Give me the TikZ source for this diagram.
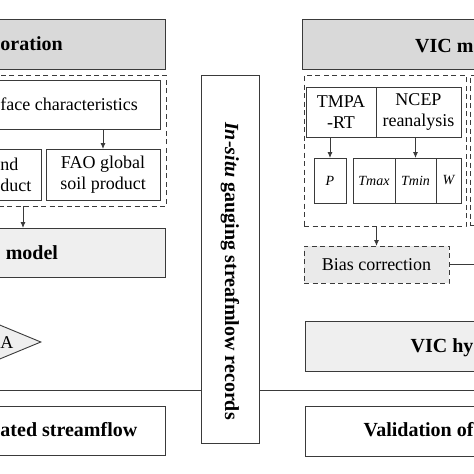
\documentclass[tikz,border=0pt]{standalone}
\usepackage{fontspec}
\setmainfont{Liberation Serif}
\usetikzlibrary{arrows.meta,shapes.geometric}
\definecolor{ln}{HTML}{3A3A3A}
\definecolor{gA}{HTML}{D9D9D9}
\definecolor{gB}{HTML}{EFEFEF}
\definecolor{gC}{HTML}{EAEAEA}
\tikzset{
  box/.style={draw=ln, line width=0.9pt, inner sep=0pt, outer sep=0pt, fill=white},
  dbox/.style={box, dash pattern=on 5pt off 3.5pt},
  hdr/.style={box, fill=gA},
  lite/.style={box, fill=gB},
  reg/.style={font=\fontsize{18}{21}\selectfont, align=center},
  bld/.style={font=\fontsize{20}{24}\selectfont\bfseries},
  sml/.style={font=\fontsize{14}{16}\selectfont\itshape},
  txt/.style={inner sep=0pt, outer sep=0pt},
  conn/.style={draw=ln, line width=0.9pt},
  arr/.style={conn, -{Latex[length=6pt,width=5pt]}}
}
\newcommand\mybox[7]{\node[#6, minimum width={#4-(#2)}, minimum height={#5-(#3)}] (#1) at ({(#2+#4)/2},{(#3+#5)/2}) {#7};}
\begin{document}
\begin{tikzpicture}[x=1pt,y=-1pt]
\fill[white] (0,0) rectangle (474,474);
\useasboundingbox (0,0) rectangle (474,474);

% ---------- left column ----------
\mybox{topL}{-10}{19}{165}{69}{hdr}{}
\node[txt, bld, anchor=base west] (topLt) at (0.5,50) {oration};
\mybox{dashL}{-10}{75}{166}{206}{dbox}{}
\mybox{surf}{-10}{80}{160}{129}{box}{}
\node[txt, reg, anchor=base west] (surft) at (0.5,110) {face characteristics};
\mybox{land}{-10}{149}{41}{200}{box}{}
\node[txt, reg, anchor=base west] (landa) at (0.5,170) {nd};
\node[txt, reg, anchor=base west] (landb) at (0.5,191) {duct};
\mybox{fao}{46}{149}{160}{200}{box, reg}{FAO global\\soil product}
\draw[arr] (fao.north |- surf.south) -- (fao.north);
\mybox{model}{-10}{228}{165}{277}{lite}{}
\node[txt, bld, anchor=base east] (modelt) at (58,259) {model};
\coordinate (a23) at (23,0);
\draw[arr] (dashL.south -| a23) -- (model.north -| a23);
\node[draw=ln, line width=0.9pt, fill=gB, diamond, inner sep=0pt,
      minimum width=162, minimum height=67.2] (dia) at (-40,342) {};
\node[txt, reg, anchor=base west] (diat) at (0.5,348) {A};
\mybox{sim}{-10}{406}{165}{455}{box}{}
\node[txt, bld, anchor=base west] (simt) at (0.5,436) {ated streamflow};

% ---------- in-situ column ----------
\mybox{insitu}{201}{75}{259}{443}{box}{}
\node[txt, bld, rotate=-90] (insitut) at (230,271)
  {\textit{In-situ} gauging streafmlow records};
\coordinate (hl) at (-10,390);
\coordinate (hr) at (490,390);
\draw[conn] (hl) -- (hl -| insitu.west);
\draw[conn] (insitu.east |- hr) -- (hr);

% ---------- right column ----------
\mybox{topR}{302}{19}{495}{69}{hdr}{}
\node[txt, bld, anchor=base east] (topRt) at (473.5,52) {VIC m};
\mybox{dashR}{304}{75}{466}{226}{dbox}{}
\mybox{dashR2}{470}{75}{500}{225}{dbox}{}
\mybox{tmpa}{306}{87}{376}{137}{box, reg}{TMPA\\-RT}
\mybox{ncep}{376}{87}{461}{137}{box, reg}{NCEP\\reanalysis}
\mybox{pp}{314}{158}{346}{203}{box, sml}{P}
\mybox{tmax}{353}{158}{395}{203}{box, sml}{Tmax}
\mybox{tmin}{395}{158}{436}{203}{box, sml}{Tmin}
\mybox{ww}{436}{158}{461}{203}{box, sml}{W}
\draw[arr] (pp.north |- tmpa.south) -- (pp.north);
\draw[arr] (tmin.north |- ncep.south) -- (tmin.north);
\mybox{bias}{304}{246}{449}{283}{dbox, fill=gC, reg}{Bias correction}
\draw[arr] (bias.north |- dashR.south) -- (bias.north);
\coordinate (br) at (490,264);
\draw[conn] (bias.east) -- (bias.east -| br);
\mybox{vichy}{305}{321}{495}{371}{lite}{}
\node[txt, bld, anchor=base east] (vichyt) at (473.5,352) {VIC hy};
\mybox{valid}{305}{406}{495}{456}{box}{}
\node[txt, bld, anchor=base east] (validt) at (473.5,436) {Validation of};
\end{tikzpicture}
\end{document}
